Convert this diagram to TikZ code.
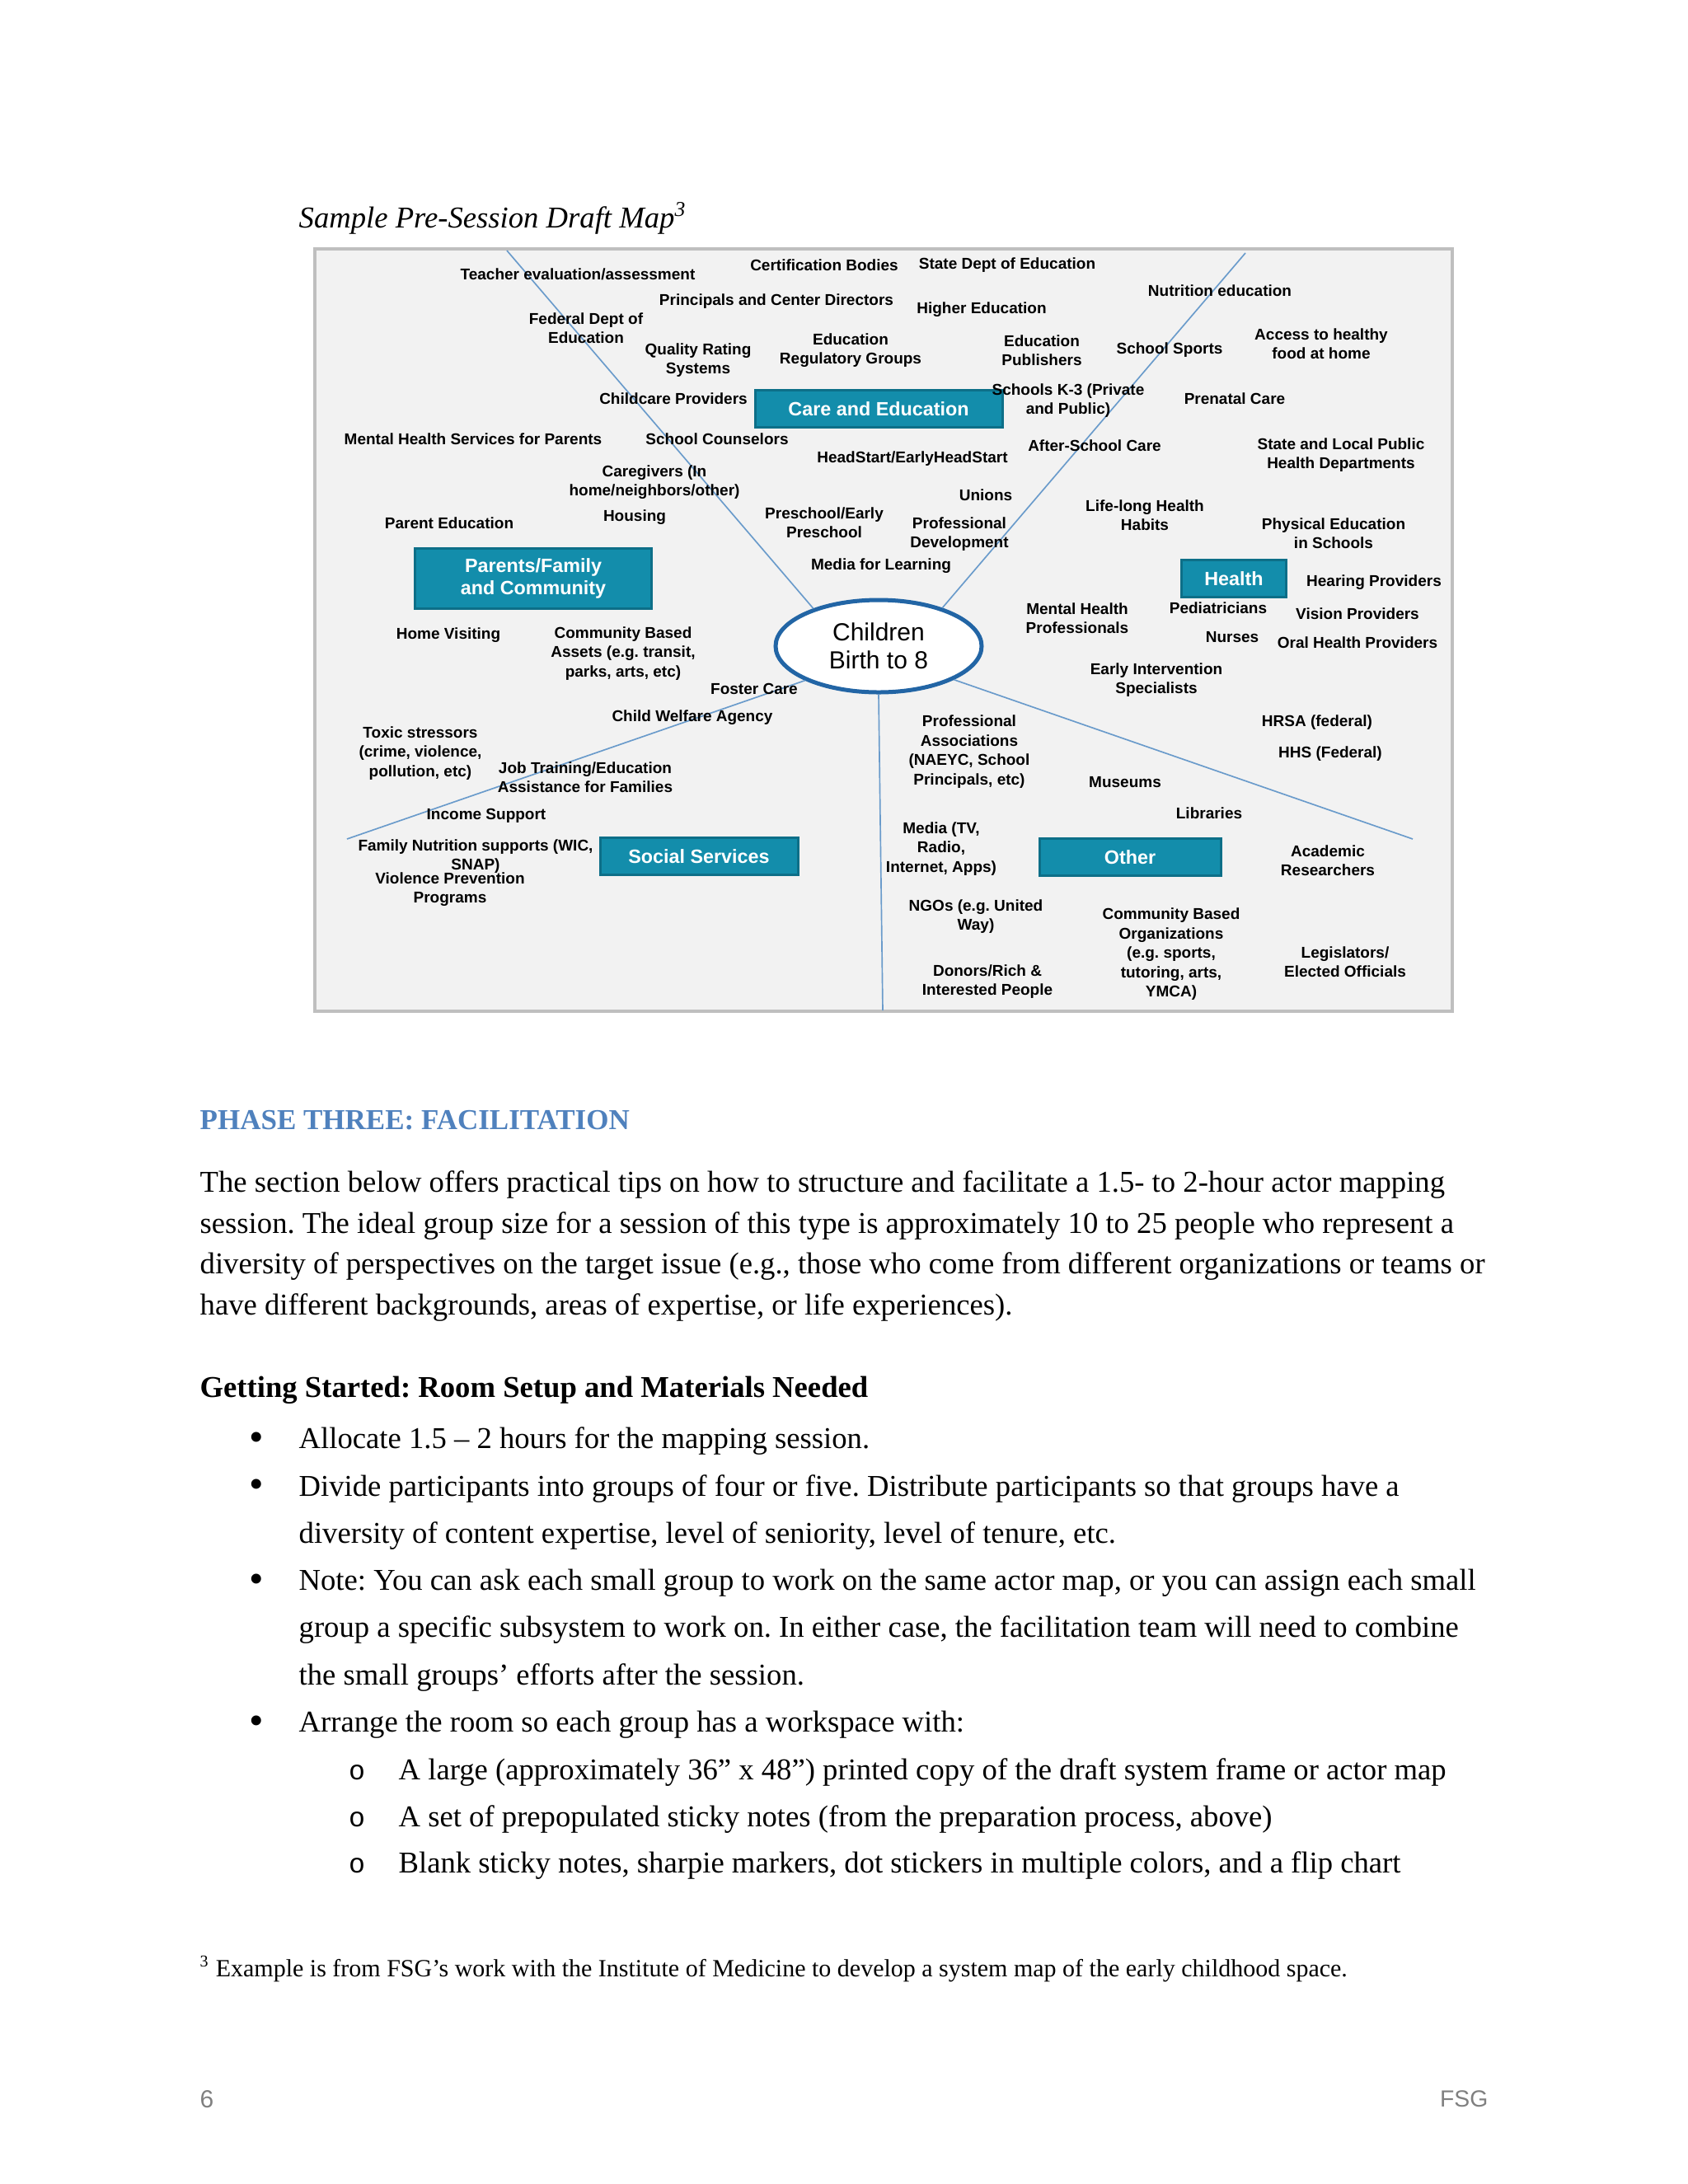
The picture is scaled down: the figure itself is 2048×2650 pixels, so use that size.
\documentclass[tikz,border=0pt]{standalone}
\usepackage{fontspec}
\setmainfont{Liberation Serif}
\newfontfamily\mapfont{Liberation Sans}
\newfontfamily\markfont{Liberation Mono}
\usetikzlibrary{shapes.geometric}
\definecolor{catfill}{HTML}{138DAB}
\definecolor{catline}{HTML}{0D6F88}
\definecolor{spokeblue}{HTML}{6A9BCB}
\definecolor{hubline}{HTML}{2265A5}
\definecolor{panel}{HTML}{F2F2F2}
\definecolor{panelrule}{HTML}{BFBFBF}
\definecolor{headblue}{HTML}{4F81BD}
\definecolor{footgray}{HTML}{808080}
\frenchspacing

\begin{document}
\begin{tikzpicture}[
  x=0.3pt,y=-0.3pt,
  actor/.style={font=\mapfont\bfseries\fontsize{5.7}{7.05}\selectfont,align=center,inner sep=0pt},
  cat/.style={draw=catline,line width=0.9pt,fill=catfill,text=white,inner sep=0pt,
              font=\mapfont\bfseries\fontsize{7}{8.3}\selectfont,align=center},
  hub/.style={ellipse,draw=hubline,line width=1.5pt,fill=white,inner sep=0pt,
              minimum width=75pt,minimum height=33.6pt,align=center,
              font=\mapfont\fontsize{9}{10.2}\selectfont},
  spoke/.style={draw=spokeblue,line width=0.5pt},
  para/.style={anchor=west,align=left,inner sep=0pt,font=\fontsize{11}{14.85}\selectfont},
  item/.style={anchor=west,align=left,inner sep=0pt,font=\fontsize{11}{17.25}\selectfont},
  dot/.style={inner sep=0pt,font=\fontsize{15}{15}\selectfont},
  subdot/.style={inner sep=0pt,font=\markfont\fontsize{10}{12}\selectfont},
]
\useasboundingbox (0,0) rectangle (2048,2650);

% caption and map panel
\node[anchor=west,inner sep=0pt,font=\itshape\fontsize{11}{13}\selectfont] (caption) at (362,265)
  {Sample Pre-Session Draft Map\textsuperscript{3}};
\node[draw=panelrule,fill=panel,line width=1.2pt,inner sep=0pt,
      minimum width=414pt,minimum height=277.5pt] (map) at (1072,764.5) {};

\coordinate (c1) at (615,304);
\coordinate (c2) at (1511,307);
\coordinate (c3) at (421,1018);
\coordinate (c4) at (1071,1226);
\coordinate (c5) at (1714,1018);

\node[hub] (kid) at (1066,784) {Children\\Birth to 8};
\draw[spoke] (kid.150) -- (c1);
\draw[spoke] (kid.31) -- (c2);
\draw[spoke] (kid.205) -- (c3);
\draw[spoke] (kid.south) -- (c4);
\draw[spoke] (kid.-24) -- (c5);

% the five sectors
\node[cat,minimum width=90pt,minimum height=13.5pt] (care) at (1066,496) {Care and Education};
\node[cat,minimum width=86pt,minimum height=22pt] (family) at (647,702) {Parents/Family\\and Community};
\node[cat,minimum width=38pt,minimum height=13.5pt] (health) at (1497,702) {Health};
\node[cat,minimum width=72pt,minimum height=13.5pt] (social) at (848,1039) {Social Services};
\node[cat,minimum width=66pt,minimum height=13.5pt] (other) at (1371,1040) {Other};

% actors
\node[actor] (teacher) at (701,333) {Teacher evaluation/assessment};
\node[actor] (certif) at (1000,322) {Certification Bodies};
\node[actor] (statedept) at (1222,322) {State Dept of Education};
\node[actor] (principals) at (942,366) {Principals and Center Directors};
\node[actor] (higher) at (1191,376) {Higher Education};
\node[actor] (nutrition) at (1480,353) {Nutrition education};
\node[actor] (feddept) at (711,398) {Federal Dept of\\Education};
\node[actor] (quality) at (847,437) {Quality Rating\\Systems};
\node[actor] (regulatory) at (1032,425) {Education\\Regulatory Groups};
\node[actor] (publishers) at (1264,425) {Education\\Publishers};
\node[actor] (sports) at (1419,425) {School Sports};
\node[actor] (healthyfood) at (1603,417) {Access to healthy\\food at home};
\node[actor] (childcare) at (817,484) {Childcare Providers};
\node[actor] (schools) at (1296,486) {Schools K-3 (Private\\and Public)};
\node[actor] (prenatal) at (1498,484) {Prenatal Care};
\node[actor] (mhparents) at (574,533) {Mental Health Services for Parents};
\node[actor] (counselors) at (870,533) {School Counselors};
\node[actor] (headstart) at (1107,557) {HeadStart/EarlyHeadStart};
\node[actor] (afterschool) at (1328,541) {After-School Care};
\node[actor] (publichealth) at (1627,552) {State and Local Public\\Health Departments};
\node[actor] (caregivers) at (794,585) {Caregivers (In\\home/neighbors/other)};
\node[actor] (unions) at (1196,601) {Unions};
\node[actor] (parented) at (545,635) {Parent Education};
\node[actor] (housing) at (770,628) {Housing};
\node[actor] (preschool) at (1000,634) {Preschool/Early\\Preschool};
\node[actor] (lifelong) at (1389,625) {Life-long Health\\Habits};
\node[actor] (profdev) at (1164,648) {Professional\\Development};
\node[actor] (physed) at (1618,647) {Physical Education\\in Schools};
\node[actor] (medialearn) at (1069,687) {Media for Learning};
\node[actor] (hearing) at (1667,707) {Hearing Providers};
\node[actor] (mhprof) at (1307,750) {Mental Health\\Professionals};
\node[actor] (pediatric) at (1478,738) {Pediatricians};
\node[actor] (vision) at (1647,745) {Vision Providers};
\node[actor] (nurses) at (1495,773) {Nurses};
\node[actor] (oral) at (1647,780) {Oral Health Providers};
\node[actor] (homevisit) at (544,771) {Home Visiting};
\node[actor] (assets) at (756,793) {Community Based\\Assets (e.g. transit,\\parks, arts, etc)};
\node[actor] (earlyint) at (1403,825) {Early Intervention\\Specialists};
\node[actor] (foster) at (915,836) {Foster Care};
\node[actor] (welfare) at (840,871) {Child Welfare Agency};
\node[actor] (toxic) at (510,914) {Toxic stressors\\(crime, violence,\\pollution, etc)};
\node[actor] (jobtrain) at (710,943) {Job Training/Education\\Assistance for Families};
\node[actor] (income) at (590,990) {Income Support};
\node[actor] (familynut) at (577,1039) {Family Nutrition supports (WIC,\\SNAP)};
\node[actor] (violence) at (546,1079) {Violence Prevention\\Programs};
\node[actor] (profassoc) at (1176,912) {Professional\\Associations\\(NAEYC, School\\Principals, etc)};
\node[actor] (hrsa) at (1598,877) {HRSA (federal)};
\node[actor] (hhs) at (1614,915) {HHS (Federal)};
\node[actor] (museums) at (1365,949) {Museums};
\node[actor] (libraries) at (1467,987) {Libraries};
\node[actor] (media) at (1142,1030) {Media (TV,\\Radio,\\Internet, Apps)};
\node[actor] (academic) at (1611,1044) {Academic\\Researchers};
\node[actor] (ngos) at (1184,1112) {NGOs (e.g. United\\Way)};
\node[actor] (cbo) at (1421,1158) {Community Based\\Organizations\\(e.g. sports,\\tutoring, arts,\\YMCA)};
\node[actor] (donors) at (1198,1191) {Donors/Rich \&\\Interested People};
\node[actor] (legislators) at (1632,1167) {Legislators/\\Elected Officials};

% page text
\node[anchor=west,inner sep=0pt,text=headblue,font=\bfseries\fontsize{10.5}{13}\selectfont] (phase) at (242,1359)
  {PHASE THREE: FACILITATION};
\node[para] (intro) at (242,1512)
  {The section below offers practical tips on how to structure and facilitate a 1.5- to 2-hour actor mapping\\
   session. The ideal group size for a session of this type is approximately 10 to 25 people who represent a\\
   diversity of perspectives on the target issue (e.g., those who come from different organizations or teams or\\
   have different backgrounds, areas of expertise, or life experiences).};
\node[anchor=west,inner sep=0pt,font=\bfseries\fontsize{11}{13}\selectfont] (setup) at (242,1687)
  {Getting Started: Room Setup and Materials Needed};

\node[dot] (b1) at (311,1749) {•};
\node[dot] (b2) at (311,1806) {•};
\node[dot] (b3) at (311,1921) {•};
\node[dot] (b4) at (311,2093) {•};
\node[item] (t1) at (362,1749) {Allocate 1.5 – 2 hours for the mapping session.};
\node[item] (t2) at (362,1835)
  {Divide participants into groups of four or five. Distribute participants so that groups have a\\
   diversity of content expertise, level of seniority, level of tenure, etc.};
\node[item] (t3) at (362,1978)
  {Note: You can ask each small group to work on the same actor map, or you can assign each small\\
   group a specific subsystem to work on. In either case, the facilitation team will need to combine\\
   the small groups’ efforts after the session.};
\node[item] (t4) at (362,2093) {Arrange the room so each group has a workspace with:};

\node[subdot] (s1) at (433,2151) {o};
\node[subdot] (s2) at (433,2208) {o};
\node[subdot] (s3) at (433,2264) {o};
\node[item] (u1) at (483,2151) {A large (approximately 36” x 48”) printed copy of the draft system frame or actor map};
\node[item] (u2) at (483,2208) {A set of prepopulated sticky notes (from the preparation process, above)};
\node[item] (u3) at (483,2264) {Blank sticky notes, sharpie markers, dot stickers in multiple colors, and a flip chart};

% footnote and footer
\node[anchor=west,inner sep=0pt,font=\fontsize{9}{11}\selectfont] (fn) at (242,2389)
  {\textsuperscript{3} Example is from FSG’s work with the Institute of Medicine to develop a system map of the early childhood space.};
\node[anchor=west,inner sep=0pt,text=footgray,font=\mapfont\fontsize{9}{11}\selectfont] (pageno) at (242,2547) {6};
\node[anchor=east,inner sep=0pt,text=footgray,font=\mapfont\fontsize{8.5}{11}\selectfont] (brand) at (1806,2547) {FSG};
\end{tikzpicture}
\end{document}
